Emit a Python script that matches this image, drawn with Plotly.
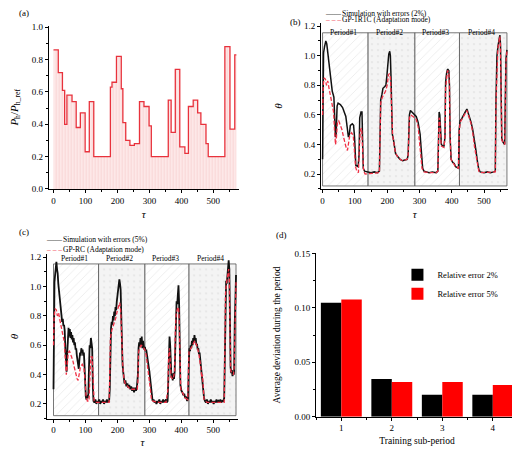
import plotly.graph_objects as go

# (a) heating power ratio, step starts (tau) and values
step_tau = [0, 15, 28, 35, 42, 58, 71, 84, 99, 112, 126, 178, 183, 197, 212, 217, 226, 239,
            253, 269, 283, 299, 306, 359, 368, 381, 395, 411, 422, 437, 451, 461, 477, 484,
            536, 552, 567]
step_ratio = [0.86, 0.72, 0.61, 0.40, 0.58, 0.54, 0.38, 0.47, 0.23, 0.54, 0.20, 0.63, 0.66,
              0.82, 0.62, 0.41, 0.30, 0.27, 0.28, 0.54, 0.51, 0.39, 0.20, 0.55, 0.35, 0.74,
              0.26, 0.22, 0.51, 0.55, 0.47, 0.40, 0.28, 0.20, 0.88, 0.37, 0.83]
tau_end = 572

# training periods (tau boundaries)
period_edges = [0, 141, 286, 424, 571]
period_names = ['Period#1', 'Period#2', 'Period#3', 'Period#4']

# (b) simulation with 2% errors and GP-1R1C
sim2 = [(0, 0.30), (1, 0.95), (3, 1.02), (6, 1.06), (10, 1.10), (13, 1.08), (17, 1.00), (21, 0.90),
        (25, 0.82), (30, 0.76), (35, 0.72), (38, 0.60), (40, 0.45), (42, 0.47), (45, 0.66),
        (48, 0.68), (55, 0.67), (62, 0.65), (68, 0.62), (72, 0.59), (76, 0.52), (80, 0.45),
        (83, 0.47), (86, 0.53), (92, 0.54), (96, 0.53), (99, 0.45), (101, 0.30), (103, 0.26),
        (110, 0.25), (113, 0.33), (115, 0.58), (119, 0.62), (122, 0.62), (124, 0.45), (126, 0.24),
        (130, 0.22), (140, 0.215), (150, 0.21), (160, 0.215), (170, 0.21), (176, 0.22), (178, 0.45),
        (180, 0.70), (184, 0.74), (187, 0.78), (192, 0.79), (196, 0.80), (199, 0.86), (202, 0.97),
        (205, 1.01), (208, 1.03), (210, 1.00), (212, 0.85), (214, 0.62), (216, 0.47), (219, 0.44),
        (222, 0.40), (226, 0.34), (232, 0.32), (240, 0.30), (248, 0.29), (256, 0.295), (262, 0.30),
        (265, 0.33), (267, 0.45), (269, 0.60), (272, 0.63), (280, 0.61), (290, 0.59), (296, 0.55),
        (302, 0.47), (306, 0.35), (310, 0.24), (314, 0.22), (320, 0.215), (330, 0.21), (340, 0.215),
        (352, 0.21), (357, 0.22), (359, 0.45), (361, 0.62), (363, 0.60), (366, 0.45), (368, 0.40),
        (372, 0.39), (376, 0.39), (379, 0.45), (381, 0.82), (384, 0.88), (387, 0.91), (391, 0.90),
        (393, 0.80), (395, 0.45), (398, 0.30), (403, 0.28), (408, 0.27), (412, 0.25), (418, 0.24),
        (421, 0.24), (423, 0.50), (426, 0.56), (430, 0.57), (436, 0.60), (442, 0.62), (447, 0.64),
        (450, 0.62), (455, 0.58), (460, 0.55), (465, 0.50), (470, 0.44), (475, 0.36), (480, 0.28),
        (484, 0.23), (488, 0.215), (500, 0.21), (510, 0.215), (520, 0.21), (530, 0.215), (535, 0.22),
        (537, 0.70), (540, 1.00), (543, 1.06), (546, 1.10), (549, 1.14), (551, 1.08), (553, 0.60),
        (555, 0.44), (558, 0.42), (561, 0.41), (564, 0.40), (566, 0.70), (568, 0.98), (571, 1.04)]
gp1r1c = [(0, 0.60), (2, 0.80), (5, 0.85), (9, 0.84), (12, 0.80), (16, 0.83), (20, 0.78), (25, 0.72),
          (30, 0.68), (34, 0.62), (37, 0.50), (40, 0.40), (43, 0.45), (46, 0.55), (50, 0.56),
          (55, 0.53), (60, 0.50), (65, 0.45), (70, 0.40), (74, 0.37), (77, 0.36), (80, 0.40),
          (84, 0.46), (90, 0.48), (95, 0.46), (99, 0.35), (102, 0.25), (106, 0.22), (111, 0.21),
          (114, 0.38), (117, 0.50), (121, 0.51), (124, 0.38), (127, 0.22), (132, 0.20), (150, 0.205),
          (176, 0.21), (178, 0.45), (180, 0.68), (185, 0.72), (190, 0.74), (195, 0.76), (200, 0.80),
          (204, 0.87), (207, 0.88), (210, 0.85), (212, 0.75), (214, 0.60), (217, 0.46), (220, 0.42),
          (226, 0.34), (232, 0.32), (240, 0.30), (248, 0.29), (256, 0.295), (262, 0.30), (265, 0.33),
          (267, 0.45), (269, 0.58), (272, 0.60), (280, 0.59), (290, 0.57), (296, 0.52), (300, 0.42),
          (304, 0.30), (308, 0.24), (314, 0.215), (330, 0.21), (352, 0.21), (357, 0.22), (359, 0.42),
          (361, 0.58), (363, 0.57), (366, 0.44), (368, 0.39), (376, 0.38), (379, 0.45), (381, 0.78),
          (384, 0.86), (387, 0.90), (391, 0.89), (393, 0.78), (395, 0.44), (398, 0.30), (403, 0.28),
          (412, 0.25), (421, 0.24), (423, 0.48), (426, 0.55), (436, 0.59), (442, 0.61), (447, 0.63),
          (450, 0.61), (455, 0.57), (460, 0.54), (465, 0.48), (468, 0.40), (471, 0.38), (475, 0.33),
          (480, 0.27), (484, 0.22), (488, 0.21), (535, 0.215), (537, 0.68), (540, 0.98), (543, 1.05),
          (546, 1.09), (549, 1.13), (551, 1.06), (553, 0.58), (555, 0.43), (561, 0.41), (564, 0.40),
          (566, 0.68), (568, 0.96), (571, 1.03)]

# (c) simulation with 5% errors and GP-RC
sim5 = [(0, 0.30), (1, 0.98), (3, 1.03), (5, 1.08), (7, 1.12), (9, 1.17), (11, 1.12), (13, 1.09),
        (15, 1.02), (17, 0.98), (19, 0.92), (21, 0.88), (23, 0.82), (25, 0.80), (27, 0.76), (29, 0.78),
        (31, 0.73), (33, 0.74), (35, 0.70), (37, 0.58), (39, 0.46), (41, 0.42), (43, 0.55), (45, 0.68),
        (47, 0.72), (49, 0.66), (51, 0.71), (53, 0.65), (55, 0.69), (57, 0.64), (59, 0.67), (61, 0.62),
        (63, 0.65), (65, 0.60), (67, 0.62), (69, 0.57), (71, 0.58), (73, 0.53), (75, 0.49), (77, 0.45),
        (79, 0.44), (81, 0.50), (83, 0.55), (85, 0.53), (87, 0.58), (89, 0.55), (91, 0.57), (93, 0.53),
        (95, 0.55), (97, 0.46), (99, 0.30), (101, 0.25), (103, 0.23), (105, 0.26), (107, 0.24),
        (109, 0.27), (111, 0.45), (113, 0.60), (115, 0.58), (117, 0.65), (119, 0.62), (121, 0.58),
        (123, 0.32), (125, 0.22), (128, 0.21), (131, 0.23), (134, 0.20), (137, 0.22), (140, 0.21),
        (143, 0.23), (146, 0.20), (149, 0.22), (152, 0.21), (155, 0.23), (158, 0.20), (161, 0.22),
        (164, 0.21), (167, 0.23), (170, 0.21), (174, 0.22), (176, 0.30), (178, 0.62), (180, 0.72),
        (182, 0.76), (184, 0.74), (186, 0.80), (188, 0.77), (190, 0.83), (192, 0.80), (194, 0.86),
        (196, 0.84), (198, 0.90), (200, 0.93), (202, 0.97), (204, 1.00), (206, 1.05), (208, 1.02),
        (210, 0.98), (212, 0.80), (214, 0.55), (216, 0.47), (218, 0.42), (220, 0.36), (222, 0.34),
        (225, 0.36), (228, 0.32), (231, 0.34), (234, 0.31), (237, 0.33), (240, 0.30), (243, 0.32),
        (246, 0.29), (249, 0.31), (252, 0.28), (255, 0.31), (258, 0.29), (261, 0.32), (264, 0.40),
        (266, 0.58), (268, 0.62), (270, 0.59), (272, 0.65), (274, 0.60), (276, 0.66), (278, 0.58),
        (280, 0.63), (282, 0.60), (284, 0.57), (286, 0.59), (288, 0.56), (290, 0.57), (292, 0.53),
        (294, 0.52), (296, 0.48), (298, 0.45), (300, 0.42), (302, 0.38), (304, 0.33), (306, 0.28),
        (308, 0.24), (310, 0.22), (313, 0.23), (316, 0.21), (319, 0.22), (322, 0.20), (325, 0.22),
        (328, 0.21), (331, 0.23), (334, 0.20), (337, 0.22), (340, 0.21), (343, 0.23), (346, 0.21),
        (349, 0.22), (352, 0.23), (355, 0.21), (357, 0.22), (359, 0.35), (361, 0.58), (363, 0.66),
        (365, 0.60), (367, 0.45), (369, 0.38), (371, 0.40), (373, 0.36), (375, 0.41), (377, 0.37),
        (379, 0.42), (381, 0.60), (383, 0.85), (385, 0.90), (387, 0.88), (389, 0.96), (391, 1.01),
        (393, 0.88), (395, 0.55), (397, 0.33), (400, 0.29), (403, 0.28), (406, 0.26), (409, 0.27),
        (412, 0.24), (415, 0.25), (418, 0.22), (421, 0.24), (423, 0.45), (425, 0.58), (427, 0.56),
        (429, 0.60), (431, 0.58), (433, 0.63), (435, 0.60), (437, 0.65), (439, 0.62), (441, 0.67),
        (443, 0.63), (445, 0.65), (447, 0.60), (449, 0.61), (451, 0.57), (453, 0.58), (455, 0.54),
        (457, 0.55), (459, 0.50), (461, 0.47), (463, 0.43), (465, 0.38), (467, 0.33), (469, 0.28),
        (471, 0.24), (474, 0.22), (477, 0.21), (480, 0.23), (483, 0.20), (486, 0.22), (489, 0.21),
        (492, 0.23), (495, 0.21), (498, 0.22), (501, 0.20), (504, 0.22), (507, 0.21), (510, 0.23),
        (513, 0.21), (516, 0.22), (519, 0.21), (522, 0.23), (525, 0.21), (528, 0.22), (531, 0.22),
        (534, 0.24), (536, 0.60), (538, 0.98), (540, 1.04), (542, 1.02), (544, 1.10), (546, 1.13),
        (548, 1.18), (550, 1.12), (552, 0.70), (554, 0.45), (556, 0.41), (558, 0.43), (560, 0.39),
        (562, 0.41), (564, 0.40), (565, 0.42), (567, 0.75), (569, 1.02), (571, 1.08)]
gprc = [(0, 0.60), (2, 0.80), (5, 0.85), (9, 0.84), (12, 0.80), (16, 0.82), (20, 0.77), (25, 0.72),
        (30, 0.68), (34, 0.62), (37, 0.50), (40, 0.40), (43, 0.46), (46, 0.55), (50, 0.56), (55, 0.53),
        (60, 0.50), (65, 0.45), (70, 0.40), (74, 0.37), (77, 0.36), (80, 0.40), (84, 0.45), (90, 0.47),
        (95, 0.45), (99, 0.35), (102, 0.25), (106, 0.22), (111, 0.22), (114, 0.38), (117, 0.52),
        (121, 0.52), (124, 0.38), (127, 0.22), (132, 0.21), (150, 0.21), (174, 0.21), (176, 0.40),
        (178, 0.65), (182, 0.70), (188, 0.74), (194, 0.78), (200, 0.84), (204, 0.88), (207, 0.89),
        (210, 0.84), (212, 0.70), (214, 0.55), (217, 0.45), (220, 0.38), (224, 0.34), (232, 0.32),
        (240, 0.30), (250, 0.30), (262, 0.30), (264, 0.35), (266, 0.55), (269, 0.58), (274, 0.60),
        (280, 0.59), (286, 0.57), (290, 0.53), (294, 0.47), (298, 0.40), (302, 0.32), (306, 0.24),
        (310, 0.22), (330, 0.21), (352, 0.21), (358, 0.30), (360, 0.52), (363, 0.58), (366, 0.45),
        (368, 0.38), (374, 0.37), (379, 0.42), (381, 0.70), (384, 0.82), (388, 0.85), (391, 0.86),
        (393, 0.78), (395, 0.45), (398, 0.30), (405, 0.27), (412, 0.24), (420, 0.23), (422, 0.42),
        (424, 0.56), (430, 0.58), (436, 0.61), (442, 0.63), (448, 0.60), (454, 0.55), (460, 0.46),
        (462, 0.42), (464, 0.38), (466, 0.40), (468, 0.30), (471, 0.23), (480, 0.21), (534, 0.21),
        (536, 0.55), (538, 0.95), (541, 1.02), (545, 1.08), (548, 1.12), (550, 1.05), (552, 0.65),
        (554, 0.43), (558, 0.41), (563, 0.40), (565, 0.45), (567, 0.75), (569, 0.98), (571, 1.03)]

# (d) average deviation per training sub-period
sub_period = [1, 2, 3, 4]
dev_2pct = [0.1047, 0.0345, 0.0201, 0.0201]
dev_5pct = [0.1077, 0.0318, 0.0318, 0.0291]

FONT = 'Liberation Serif'
# the page body has an 8px margin, so the figure is a bit smaller than the window
OFF = 8
W, H = 520 - OFF, 449 - OFF


def xd(a, b):
    return [(a - OFF) / W, (b - OFF) / W]


def yd(top, bottom):
    return [1 - (bottom - OFF) / H, 1 - (top - OFF) / H]


def px(x):
    return max(x - OFF, 0) / W


def py(y):
    return 1 - max(y - OFF, 0) / H


def axis(**kw):
    d = dict(showline=True, linecolor='black', linewidth=1, ticks='outside', ticklen=3,
             tickcolor='black', showgrid=False, zeroline=False, tickfont=dict(size=9))
    d.update(kw)
    return d


def minor(step, t0=None):
    m = dict(ticks='outside', ticklen=2, dtick=step, tickcolor='black', showgrid=False)
    if t0 is not None:
        m['tick0'] = t0
    return m


fig = go.Figure()

# (a)
fig.add_trace(go.Scatter(
    x=step_tau + [tau_end], y=step_ratio + [step_ratio[-1]],
    mode='lines', line=dict(color='#e8323c', width=1.3, shape='hv'),
    fill='tozeroy', fillcolor='#fbe0e0',
    fillpattern=dict(shape='|', fgcolor='#f5c4c4', bgcolor='#fde8e8', size=3, solidity=0.35),
    showlegend=False, xaxis='x', yaxis='y'))

# period boxes for (b) and (c)
box_bottom, box_top = 0.12, 1.155
p_center = [(period_edges[i] + period_edges[i + 1]) / 2 for i in range(4)]
p_width = [period_edges[i + 1] - period_edges[i] for i in range(4)]
for xa, ya in [('x2', 'y2'), ('x3', 'y3')]:
    fig.add_trace(go.Bar(
        x=p_center, y=[box_top - box_bottom] * 4, base=[box_bottom] * 4, width=p_width,
        marker=dict(color='white', line=dict(color='#555555', width=0.8),
                    pattern=dict(shape=['/', '.', '/', '.'],
                                 fgcolor=['#d0d0d0', '#dcdcdc', '#d0d0d0', '#dcdcdc'],
                                 bgcolor=['#ffffff', '#f4f4f4', '#ffffff', '#f4f4f4'],
                                 size=6, solidity=0.12)),
        showlegend=False, hoverinfo='skip', xaxis=xa, yaxis=ya))

# (b)
fig.add_trace(go.Scatter(x=[p[0] for p in sim2], y=[p[1] for p in sim2], mode='lines',
                         line=dict(color='#111111', width=1.5), showlegend=False,
                         xaxis='x2', yaxis='y2'))
fig.add_trace(go.Scatter(x=[p[0] for p in gp1r1c], y=[p[1] for p in gp1r1c], mode='lines',
                         line=dict(color='#f03045', width=1.3, dash='4px,2px'), showlegend=False,
                         xaxis='x2', yaxis='y2'))

# (c)
fig.add_trace(go.Scatter(x=[p[0] for p in sim5], y=[p[1] for p in sim5], mode='lines',
                         line=dict(color='#111111', width=1.8), showlegend=False,
                         xaxis='x3', yaxis='y3'))
fig.add_trace(go.Scatter(x=[p[0] for p in gprc], y=[p[1] for p in gprc], mode='lines',
                         line=dict(color='#f03045', width=1.3, dash='4px,2px'), showlegend=False,
                         xaxis='x3', yaxis='y3'))

# (d)
fig.add_trace(go.Bar(x=sub_period, y=dev_2pct, name='Relative error 2%',
                     marker=dict(color='black', line=dict(width=0)), xaxis='x4', yaxis='y4'))
fig.add_trace(go.Bar(x=sub_period, y=dev_5pct, name='Relative error 5%',
                     marker=dict(color='#ff0000', line=dict(width=0)), xaxis='x4', yaxis='y4'))

annotations = []
for c, name in zip(p_center, period_names):
    for xa, ya, yy in [('x2', 'y2', 1.16), ('x3', 'y3', 1.19)]:
        annotations.append(dict(x=c - 6, y=yy, xref=xa, yref=ya, text=name, showarrow=False,
                                borderpad=0, font=dict(size=7.5)))

for lbl, lx, ly in [('(a)', 4, 7), ('(b)', 284, 17), ('(c)', 4, 232), ('(d)', 270, 235)]:
    annotations.append(dict(x=px(lx), y=py(ly), xref='paper', yref='paper', text=lbl,
                            showarrow=False, xanchor='left', yanchor='middle', borderpad=0,
                            font=dict(size=9)))

# hand-made legends for (b) and (c): sample stroke + label
legend_rows = [
    (320, 4.0, '——', '#111111', 'Simulation with errors (2%)'),
    (320, 14.2, '– – –', '#f03045', 'GP-1R1C (Adaptation mode)'),
    (36, 239.5, '——', '#111111', 'Simulation with errors (5%)'),
    (36, 249.7, '– – –', '#f03045', 'GP-RC (Adaptation mode)'),
]
for lx, ly, stroke, col, label in legend_rows:
    annotations.append(dict(x=px(lx), y=py(ly), xref='paper', yref='paper', text=stroke,
                            showarrow=False, xanchor='left', yanchor='middle', borderpad=0,
                            font=dict(size=7.5, color=col)))
    annotations.append(dict(x=px(lx + 17), y=py(ly), xref='paper', yref='paper', text=label,
                            showarrow=False, xanchor='left', yanchor='middle', borderpad=0,
                            font=dict(size=7.5)))

fig.update_layout(
    width=W, height=H, margin=dict(l=0, r=0, t=0, b=0),
    paper_bgcolor='white', plot_bgcolor='white',
    font=dict(family=FONT, color='black', size=9),
    barmode='group', bargap=0.19, bargroupgap=0,
    xaxis=axis(domain=xd(39.3, 233), range=[-15, 579], anchor='y', dtick=100, tick0=0,
               minor=minor(50), title=dict(text='<i>τ</i>', standoff=5, font=dict(size=11))),
    yaxis=axis(domain=yd(21, 188), range=[0, 1.01], anchor='x', dtick=0.2, tickformat='.1f',
               minor=minor(0.1),
               title=dict(text='<i>P</i><sub>h</sub>/<i>P</i><sub>h_ref</sub>', standoff=11,
                          font=dict(size=11))),
    xaxis2=axis(domain=xd(317, 508), range=[-5, 575], anchor='y2', dtick=100, tick0=0,
                minor=minor(50), title=dict(text='<i>τ</i>', standoff=5, font=dict(size=11))),
    yaxis2=axis(domain=yd(18.4, 188), range=[0.1, 1.22], anchor='x2', tickformat='.1f',
                tickvals=[0.2, 0.4, 0.6, 0.8, 1.0, 1.2], minor=minor(0.1),
                title=dict(text='<i>θ</i>', standoff=19, font=dict(size=11))),
    xaxis3=axis(domain=xd(37.7, 232), range=[-20, 576], anchor='y3', dtick=100, tick0=0,
                minor=minor(50), title=dict(text='<i>τ</i>', standoff=3, font=dict(size=11))),
    yaxis3=axis(domain=yd(255, 423), range=[0.1, 1.22], anchor='x3', tickformat='.1f',
                tickvals=[0.2, 0.4, 0.6, 0.8, 1.0, 1.2], minor=minor(0.1),
                title=dict(text='<i>θ</i>', standoff=14, font=dict(size=11))),
    xaxis4=axis(domain=xd(312, 518), range=[0.5, 4.5], anchor='y4', tickvals=sub_period,
                minor=minor(0.5, 0.5),
                title=dict(text='Training sub-period', standoff=4, font=dict(size=9.5))),
    yaxis4=axis(domain=yd(254, 421), range=[0, 0.15], anchor='x4', dtick=0.05, tickformat='.2f',
                minor=minor(0.025),
                title=dict(text='Average deviation during the period', standoff=12,
                           font=dict(size=9.5))),
    legend=dict(x=px(395), y=py(261), xanchor='left', yanchor='top',
                bgcolor='rgba(0,0,0,0)', font=dict(size=8.5), tracegroupgap=0),
    annotations=annotations,
)

fig.write_html("out.html")
